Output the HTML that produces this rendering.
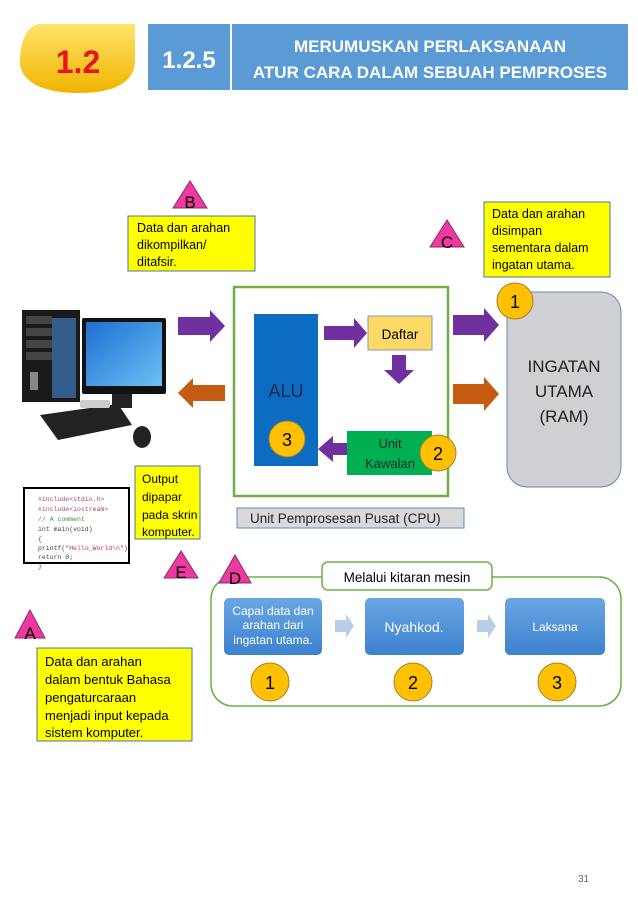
<!DOCTYPE html>
<html><head><meta charset="utf-8"><style>
html,body{margin:0;padding:0;background:#fff;}
svg{display:block;font-family:"Liberation Sans",sans-serif;}
</style></head><body>
<svg width="638" height="922" viewBox="0 0 638 922" xmlns="http://www.w3.org/2000/svg">
<defs>
<linearGradient id="yel" x1="0" y1="0" x2="0" y2="1"><stop offset="0" stop-color="#ffe46a"/><stop offset="1" stop-color="#f0b400"/></linearGradient>
<linearGradient id="scr" x1="0" y1="0" x2="1" y2="1"><stop offset="0" stop-color="#1d6fd0"/><stop offset="1" stop-color="#6bc1f5"/></linearGradient>
<linearGradient id="bb" x1="0" y1="0" x2="0" y2="1"><stop offset="0" stop-color="#6aa6e2"/><stop offset="1" stop-color="#3d82cf"/></linearGradient>
</defs>
<!-- header -->
<path d="M40,24 H135 V60 C135,85 110,93 78,93 C40,93 20,80 20,62 C20,40 28,24 40,24Z" fill="url(#yel)"/>
<text x="78" y="73" font-size="32" font-weight="bold" fill="#e8141c" text-anchor="middle">1.2</text>
<rect x="148" y="24" width="82" height="66" fill="#5b9bd5"/>
<text x="189" y="68" font-size="24" font-weight="bold" fill="#fff" text-anchor="middle">1.2.5</text>
<rect x="232" y="24" width="396" height="66" fill="#5b9bd5"/>
<text x="430" y="52" font-size="17" font-weight="bold" fill="#fff" text-anchor="middle">MERUMUSKAN PERLAKSANAAN</text>
<text x="430" y="78" font-size="17" font-weight="bold" fill="#fff" text-anchor="middle">ATUR CARA DALAM SEBUAH PEMPROSES</text>

<!-- yellow notes -->
<g font-size="12.5" fill="#000">
<rect x="128" y="216" width="127" height="55" fill="#ffff00" stroke="#4a7a9a"/>
<text x="137" y="232">Data dan arahan</text><text x="137" y="249">dikompilkan/</text><text x="137" y="266">ditafsir.</text>
<rect x="484" y="202" width="126" height="75" fill="#ffff00" stroke="#4a7a9a"/>
<text x="492" y="218">Data dan arahan</text><text x="492" y="235">disimpan</text><text x="492" y="252">sementara dalam</text><text x="492" y="269">ingatan utama.</text>
<rect x="135" y="466" width="65" height="73" fill="#ffff00" stroke="#4a7a9a"/>
<text x="142" y="483" font-size="12">Output</text><text x="142" y="501" font-size="12">dipapar</text><text x="142" y="519" font-size="12">pada skrin</text><text x="142" y="536" font-size="12">komputer.</text>
<rect x="37" y="648" width="155" height="93" fill="#ffff00" stroke="#4a7a9a"/>
<text x="45" y="666" font-size="13">Data dan arahan</text><text x="45" y="684" font-size="13">dalam bentuk Bahasa</text><text x="45" y="702" font-size="13">pengaturcaraan</text><text x="45" y="720" font-size="13">menjadi input kepada</text><text x="45" y="737" font-size="13">sistem komputer.</text>
</g>

<!-- computer -->
<rect x="22" y="310" width="58" height="92" fill="#1a1a1a"/>
<rect x="26" y="316" width="26" height="8" fill="#444"/><rect x="26" y="328" width="26" height="8" fill="#444"/><rect x="26" y="340" width="26" height="8" fill="#444"/><rect x="26" y="352" width="26" height="8" fill="#444"/>
<rect x="30" y="372" width="8" height="18" fill="#888"/>
<rect x="52" y="318" width="24" height="80" fill="#3a6ea8" opacity=".8"/>
<rect x="82" y="318" width="84" height="76" fill="#111" rx="2"/>
<rect x="86" y="322" width="76" height="64" fill="url(#scr)"/>
<rect x="112" y="394" width="20" height="14" fill="#222"/>
<polygon points="40,415 118,404 132,425 58,440" fill="#222"/>
<ellipse cx="142" cy="437" rx="9" ry="11" fill="#222"/>
<rect x="80" y="400" width="30" height="8" fill="#ccc" rx="2"/>

<!-- code box -->
<rect x="24" y="488" width="105" height="75" fill="#fff" stroke="#000" stroke-width="2"/>
<g font-family="Liberation Mono,monospace" font-size="6.5">
<text x="38" y="501" fill="#a04a7a">#include&lt;stdio.h&gt;</text>
<text x="38" y="511" fill="#a04a7a">#include&lt;iostream&gt;</text>
<text x="38" y="521" fill="#3a9a3a">// A comment</text>
<text x="38" y="531" fill="#444">int main(void)</text>
<text x="38" y="541" fill="#444">{</text>
<text x="38" y="550" fill="#444">printf("<tspan fill="#c0306a">Hello_World\n</tspan>");</text>
<text x="38" y="559" fill="#444">return 0;</text>
<text x="38" y="568" fill="#444">}</text>
</g>

<!-- side arrows -->
<polygon points="178,317 210,317 210,310 225,326 210,342 210,335 178,335" fill="#7030a0"/>
<polygon points="225,385 193,385 193,378 178,393 193,408 193,401 225,401" fill="#c55a11"/>
<polygon points="453,315 484,315 484,308 499,325 484,342 484,335 453,335" fill="#7030a0"/>
<polygon points="453,384 484,384 484,377 499,394 484,411 484,404 453,404" fill="#c55a11"/>

<!-- CPU -->
<rect x="234" y="287" width="214" height="209" fill="#fff" stroke="#70ad47" stroke-width="2.5"/>
<rect x="254" y="314" width="64" height="152" fill="#0b6cc2"/>
<text x="286" y="397" font-size="18" fill="#1a2a4a" text-anchor="middle">ALU</text>
<rect x="368" y="316" width="64" height="34" fill="#ffd966" stroke="#8a9ab0"/>
<text x="400" y="339" font-size="13.5" text-anchor="middle">Daftar</text>
<polygon points="324,326 354,326 354,318 367,333 354,348 354,340 324,340" fill="#7030a0"/>
<polygon points="392,355 406,355 406,370 414,370 399,384 384,370 392,370" fill="#7030a0"/>
<rect x="347" y="431" width="85" height="44" fill="#00b050"/>
<text x="390" y="448" font-size="13" fill="#1a2a2a" text-anchor="middle">Unit</text>
<text x="390" y="468" font-size="13" fill="#1a2a2a" text-anchor="middle">Kawalan</text>
<polygon points="347,443 333,443 333,436 318,449 333,462 333,455 347,455" fill="#7030a0"/>
<g font-size="18" text-anchor="middle">
<circle cx="287" cy="439" r="18" fill="#ffc000" stroke="#a08030"/><text x="287" y="446">3</text>
<circle cx="438" cy="453" r="18" fill="#ffc000" stroke="#a08030"/><text x="438" y="460">2</text>
</g>
<rect x="237" y="508" width="227" height="20" fill="#d9d9d9" stroke="#6a8ab0"/>
<text x="250" y="523" font-size="13.5" fill="#222">Unit Pemprosesan Pusat (CPU)</text>

<!-- RAM -->
<rect x="507" y="292" width="114" height="195" rx="20" fill="#d0d0d4" stroke="#6a8ab0"/>
<text x="564" y="372" font-size="17" text-anchor="middle" fill="#222">INGATAN</text>
<text x="564" y="397" font-size="17" text-anchor="middle" fill="#222">UTAMA</text>
<text x="564" y="422" font-size="17" text-anchor="middle" fill="#222">(RAM)</text>
<circle cx="515" cy="301" r="18" fill="#ffc000" stroke="#a08030"/><text x="515" y="308" font-size="18" text-anchor="middle">1</text>

<!-- machine cycle -->
<rect x="211" y="577" width="410" height="129" rx="22" fill="#fff" stroke="#70ad47" stroke-width="1.5"/>
<rect x="322" y="562" width="170" height="28" rx="6" fill="#fff" stroke="#70ad47" stroke-width="1.5"/>
<text x="407" y="582" font-size="13.5" text-anchor="middle">Melalui kitaran mesin</text>
<rect x="224" y="598" width="98" height="57" rx="5" fill="url(#bb)"/>
<text x="273" y="615" font-size="12" fill="#fff" text-anchor="middle">Capai data dan</text>
<text x="273" y="629" font-size="12" fill="#fff" text-anchor="middle">arahan dari</text>
<text x="273" y="644" font-size="12" fill="#fff" text-anchor="middle">ingatan utama.</text>
<rect x="365" y="598" width="99" height="57" rx="5" fill="url(#bb)"/>
<text x="414" y="632" font-size="14" fill="#fff" text-anchor="middle">Nyahkod.</text>
<rect x="505" y="598" width="100" height="57" rx="5" fill="url(#bb)"/>
<text x="555" y="631" font-size="12" fill="#fff" text-anchor="middle">Laksana</text>
<polygon points="335,620 346,620 346,614 354,626 346,638 346,632 335,632" fill="#b8cde8"/>
<polygon points="477,620 488,620 488,614 496,626 488,638 488,632 477,632" fill="#b8cde8"/>
<g font-size="18" text-anchor="middle">
<circle cx="270" cy="682" r="19" fill="#ffc000" stroke="#a08030"/><text x="270" y="689">1</text>
<circle cx="413" cy="682" r="19" fill="#ffc000" stroke="#a08030"/><text x="413" y="689">2</text>
<circle cx="557" cy="682" r="19" fill="#ffc000" stroke="#a08030"/><text x="557" y="689">3</text>
</g>

<!-- triangles (on top) -->
<g font-size="17" text-anchor="middle" fill="#000">
<polygon points="190,181 173,208 207,208" fill="#ee3aa0" stroke="#8a2a6a"/><text x="190" y="208">B</text>
<polygon points="447,220 430,247 464,247" fill="#ee3aa0" stroke="#8a2a6a"/><text x="447" y="248">C</text>
<polygon points="181,551 164,578 198,578" fill="#ee3aa0" stroke="#8a2a6a"/><text x="181" y="578">E</text>
<polygon points="235,555 219,583 251,583" fill="#ee3aa0" stroke="#8a2a6a"/><text x="235" y="584">D</text>
<polygon points="30,610 15,638 45,638" fill="#ee3aa0" stroke="#8a2a6a"/><text x="30" y="639">A</text>
</g>

<text x="578" y="882" font-size="10" fill="#666">31</text>
</svg>
</body></html>
